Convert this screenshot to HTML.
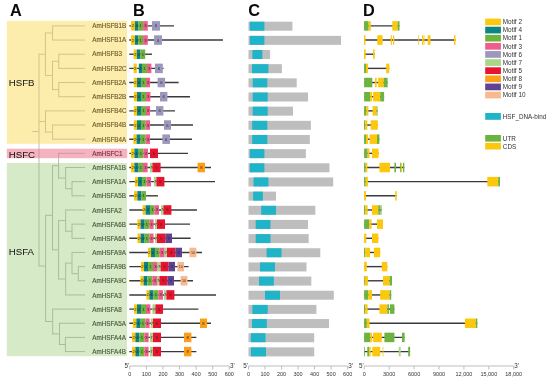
<!DOCTYPE html>
<html><head><meta charset="utf-8"><title>HSF figure</title>
<style>
html,body{margin:0;padding:0;background:#fff;}
body{width:550px;height:381px;overflow:hidden;font-family:"Liberation Sans",sans-serif;}
svg{display:block;filter:blur(0.35px);}
</style></head>
<body>
<svg width="550" height="381" viewBox="0 0 550 381" font-family="&quot;Liberation Sans&quot;, sans-serif">
<rect x="0" y="0" width="550" height="381" fill="#ffffff"/>
<rect x="6.8" y="20.8" width="120.2" height="123" fill="#fcedac"/>
<rect x="6.8" y="148.7" width="120.4" height="9.5" fill="#f4b3bf"/>
<rect x="6.8" y="163" width="120.2" height="193.2" fill="#d6eac8"/>
<line x1="52.60" y1="25.90" x2="85.00" y2="25.90" stroke="#d4c48a" stroke-width="1"/>
<line x1="52.60" y1="40.06" x2="85.00" y2="40.06" stroke="#d4c48a" stroke-width="1"/>
<line x1="52.60" y1="25.40" x2="52.60" y2="40.56" stroke="#d4c48a" stroke-width="1"/>
<line x1="58.80" y1="54.22" x2="85.00" y2="54.22" stroke="#d4c48a" stroke-width="1"/>
<line x1="58.80" y1="68.38" x2="85.00" y2="68.38" stroke="#d4c48a" stroke-width="1"/>
<line x1="58.80" y1="53.72" x2="58.80" y2="68.88" stroke="#d4c48a" stroke-width="1"/>
<line x1="58.80" y1="82.54" x2="85.00" y2="82.54" stroke="#d4c48a" stroke-width="1"/>
<line x1="58.80" y1="96.70" x2="85.00" y2="96.70" stroke="#d4c48a" stroke-width="1"/>
<line x1="58.80" y1="82.04" x2="58.80" y2="97.20" stroke="#d4c48a" stroke-width="1"/>
<line x1="52.50" y1="61.30" x2="58.80" y2="61.30" stroke="#d4c48a" stroke-width="1"/>
<line x1="52.50" y1="89.62" x2="58.80" y2="89.62" stroke="#d4c48a" stroke-width="1"/>
<line x1="52.50" y1="60.80" x2="52.50" y2="90.12" stroke="#d4c48a" stroke-width="1"/>
<line x1="45.40" y1="32.98" x2="52.60" y2="32.98" stroke="#d4c48a" stroke-width="1"/>
<line x1="45.40" y1="75.46" x2="52.50" y2="75.46" stroke="#d4c48a" stroke-width="1"/>
<line x1="45.40" y1="32.48" x2="45.40" y2="75.96" stroke="#d4c48a" stroke-width="1"/>
<line x1="52.60" y1="125.02" x2="85.00" y2="125.02" stroke="#d4c48a" stroke-width="1"/>
<line x1="52.60" y1="139.18" x2="85.00" y2="139.18" stroke="#d4c48a" stroke-width="1"/>
<line x1="52.60" y1="124.52" x2="52.60" y2="139.68" stroke="#d4c48a" stroke-width="1"/>
<line x1="45.50" y1="110.86" x2="85.00" y2="110.86" stroke="#d4c48a" stroke-width="1"/>
<line x1="45.50" y1="132.10" x2="52.60" y2="132.10" stroke="#d4c48a" stroke-width="1"/>
<line x1="45.50" y1="110.36" x2="45.50" y2="132.60" stroke="#d4c48a" stroke-width="1"/>
<line x1="72.00" y1="181.66" x2="85.00" y2="181.66" stroke="#a8be9a" stroke-width="1"/>
<line x1="72.00" y1="195.82" x2="85.00" y2="195.82" stroke="#a8be9a" stroke-width="1"/>
<line x1="72.00" y1="181.16" x2="72.00" y2="196.32" stroke="#a8be9a" stroke-width="1"/>
<line x1="65.70" y1="167.50" x2="85.00" y2="167.50" stroke="#a8be9a" stroke-width="1"/>
<line x1="65.70" y1="188.74" x2="72.00" y2="188.74" stroke="#a8be9a" stroke-width="1"/>
<line x1="65.70" y1="167.00" x2="65.70" y2="189.24" stroke="#a8be9a" stroke-width="1"/>
<line x1="58.60" y1="153.34" x2="85.00" y2="153.34" stroke="#cc9aa4" stroke-width="1"/>
<line x1="58.60" y1="178.12" x2="65.70" y2="178.12" stroke="#a8be9a" stroke-width="1"/>
<line x1="58.60" y1="152.84" x2="58.60" y2="158.20" stroke="#cc9aa4" stroke-width="1"/>
<line x1="58.60" y1="158.20" x2="58.60" y2="163.00" stroke="#bcbcbc" stroke-width="1"/>
<line x1="58.60" y1="163.00" x2="58.60" y2="178.62" stroke="#a8be9a" stroke-width="1"/>
<line x1="72.00" y1="224.14" x2="85.00" y2="224.14" stroke="#a8be9a" stroke-width="1"/>
<line x1="72.00" y1="238.30" x2="85.00" y2="238.30" stroke="#a8be9a" stroke-width="1"/>
<line x1="72.00" y1="223.64" x2="72.00" y2="238.80" stroke="#a8be9a" stroke-width="1"/>
<line x1="65.70" y1="209.98" x2="85.00" y2="209.98" stroke="#a8be9a" stroke-width="1"/>
<line x1="65.70" y1="231.22" x2="72.00" y2="231.22" stroke="#a8be9a" stroke-width="1"/>
<line x1="65.70" y1="209.48" x2="65.70" y2="231.72" stroke="#a8be9a" stroke-width="1"/>
<line x1="78.30" y1="266.62" x2="85.00" y2="266.62" stroke="#a8be9a" stroke-width="1"/>
<line x1="78.30" y1="280.78" x2="85.00" y2="280.78" stroke="#a8be9a" stroke-width="1"/>
<line x1="78.30" y1="266.12" x2="78.30" y2="281.28" stroke="#a8be9a" stroke-width="1"/>
<line x1="72.00" y1="252.46" x2="85.00" y2="252.46" stroke="#a8be9a" stroke-width="1"/>
<line x1="72.00" y1="273.70" x2="78.30" y2="273.70" stroke="#a8be9a" stroke-width="1"/>
<line x1="72.00" y1="251.96" x2="72.00" y2="274.20" stroke="#a8be9a" stroke-width="1"/>
<line x1="65.70" y1="294.94" x2="85.00" y2="294.94" stroke="#a8be9a" stroke-width="1"/>
<line x1="65.70" y1="263.08" x2="72.00" y2="263.08" stroke="#a8be9a" stroke-width="1"/>
<line x1="65.70" y1="262.58" x2="65.70" y2="295.44" stroke="#a8be9a" stroke-width="1"/>
<line x1="58.60" y1="220.60" x2="65.70" y2="220.60" stroke="#a8be9a" stroke-width="1"/>
<line x1="58.60" y1="279.01" x2="65.70" y2="279.01" stroke="#a8be9a" stroke-width="1"/>
<line x1="58.60" y1="220.10" x2="58.60" y2="279.51" stroke="#a8be9a" stroke-width="1"/>
<line x1="52.50" y1="165.73" x2="58.60" y2="165.73" stroke="#a8be9a" stroke-width="1"/>
<line x1="52.50" y1="249.81" x2="58.60" y2="249.81" stroke="#a8be9a" stroke-width="1"/>
<line x1="52.50" y1="165.23" x2="52.50" y2="250.31" stroke="#a8be9a" stroke-width="1"/>
<line x1="45.60" y1="215.30" x2="52.50" y2="215.30" stroke="#a8be9a" stroke-width="1"/>
<line x1="65.40" y1="337.42" x2="85.00" y2="337.42" stroke="#a8be9a" stroke-width="1"/>
<line x1="65.40" y1="351.58" x2="85.00" y2="351.58" stroke="#a8be9a" stroke-width="1"/>
<line x1="65.40" y1="336.92" x2="65.40" y2="352.08" stroke="#a8be9a" stroke-width="1"/>
<line x1="59.50" y1="323.26" x2="85.00" y2="323.26" stroke="#a8be9a" stroke-width="1"/>
<line x1="59.50" y1="344.50" x2="65.40" y2="344.50" stroke="#a8be9a" stroke-width="1"/>
<line x1="59.50" y1="322.76" x2="59.50" y2="345.00" stroke="#a8be9a" stroke-width="1"/>
<line x1="52.70" y1="309.10" x2="85.00" y2="309.10" stroke="#a8be9a" stroke-width="1"/>
<line x1="52.70" y1="333.88" x2="59.50" y2="333.88" stroke="#a8be9a" stroke-width="1"/>
<line x1="52.70" y1="308.60" x2="52.70" y2="334.38" stroke="#a8be9a" stroke-width="1"/>
<line x1="45.60" y1="321.49" x2="52.70" y2="321.49" stroke="#a8be9a" stroke-width="1"/>
<line x1="45.60" y1="214.80" x2="45.60" y2="321.99" stroke="#a8be9a" stroke-width="1"/>
<line x1="39.00" y1="54.22" x2="45.40" y2="54.22" stroke="#d4c48a" stroke-width="1"/>
<line x1="39.00" y1="121.48" x2="45.50" y2="121.48" stroke="#d4c48a" stroke-width="1"/>
<line x1="39.00" y1="266.00" x2="45.60" y2="266.00" stroke="#a8be9a" stroke-width="1"/>
<line x1="39.00" y1="53.72" x2="39.00" y2="144.00" stroke="#d4c48a" stroke-width="1"/>
<line x1="39.00" y1="144.00" x2="39.00" y2="148.70" stroke="#bcbcbc" stroke-width="1"/>
<line x1="39.00" y1="148.70" x2="39.00" y2="158.20" stroke="#cc9aa4" stroke-width="1"/>
<line x1="39.00" y1="158.20" x2="39.00" y2="163.00" stroke="#bcbcbc" stroke-width="1"/>
<line x1="39.00" y1="163.00" x2="39.00" y2="266.50" stroke="#a8be9a" stroke-width="1"/>
<line x1="32.40" y1="131.50" x2="39.00" y2="131.50" stroke="#d4c48a" stroke-width="1"/>
<text x="8.7" y="86.0" font-size="9.7" fill="#1c1b17" stroke="#1c1b17" stroke-width="0.05">HSFB</text>
<text x="8.7" y="157.6" font-size="9.7" fill="#1c1517" stroke="#1c1517" stroke-width="0.05">HSFC</text>
<text x="8.7" y="255.2" font-size="9.7" fill="#171c18" stroke="#171c18" stroke-width="0.05">HSFA</text>
<text x="92.3" y="28.10" font-size="6.3" fill="#6f602f" stroke="#6f602f" stroke-width="0.15">AmHSFB1B</text>
<text x="92.3" y="42.29" font-size="6.3" fill="#6f602f" stroke="#6f602f" stroke-width="0.15">AmHSFB1A</text>
<text x="92.3" y="56.47" font-size="6.3" fill="#6f602f" stroke="#6f602f" stroke-width="0.15">AmHSFB3</text>
<text x="92.3" y="70.66" font-size="6.3" fill="#6f602f" stroke="#6f602f" stroke-width="0.15">AmHSFB2C</text>
<text x="92.3" y="84.84" font-size="6.3" fill="#6f602f" stroke="#6f602f" stroke-width="0.15">AmHSFB2A</text>
<text x="92.3" y="99.03" font-size="6.3" fill="#6f602f" stroke="#6f602f" stroke-width="0.15">AmHSFB2B</text>
<text x="92.3" y="113.21" font-size="6.3" fill="#6f602f" stroke="#6f602f" stroke-width="0.15">AmHSFB4C</text>
<text x="92.3" y="127.40" font-size="6.3" fill="#6f602f" stroke="#6f602f" stroke-width="0.15">AmHSFB4B</text>
<text x="92.3" y="141.58" font-size="6.3" fill="#6f602f" stroke="#6f602f" stroke-width="0.15">AmHSFB4A</text>
<text x="92.3" y="155.77" font-size="6.3" fill="#7c2f45" stroke="#7c2f45" stroke-width="0.15">AmHSFC1</text>
<text x="92.3" y="169.95" font-size="6.3" fill="#4a5c40" stroke="#4a5c40" stroke-width="0.15">AmHSFA1B</text>
<text x="92.3" y="184.13" font-size="6.3" fill="#4a5c40" stroke="#4a5c40" stroke-width="0.15">AmHSFA1A</text>
<text x="92.3" y="198.32" font-size="6.3" fill="#4a5c40" stroke="#4a5c40" stroke-width="0.15">AmHSFA5B</text>
<text x="92.3" y="212.50" font-size="6.3" fill="#4a5c40" stroke="#4a5c40" stroke-width="0.15">AmHSFA2</text>
<text x="92.3" y="226.69" font-size="6.3" fill="#4a5c40" stroke="#4a5c40" stroke-width="0.15">AmHSFA6B</text>
<text x="92.3" y="240.88" font-size="6.3" fill="#4a5c40" stroke="#4a5c40" stroke-width="0.15">AmHSFA6A</text>
<text x="92.3" y="255.06" font-size="6.3" fill="#4a5c40" stroke="#4a5c40" stroke-width="0.15">AmHSFA9A</text>
<text x="92.3" y="269.25" font-size="6.3" fill="#4a5c40" stroke="#4a5c40" stroke-width="0.15">AmHSFA9B</text>
<text x="92.3" y="283.43" font-size="6.3" fill="#4a5c40" stroke="#4a5c40" stroke-width="0.15">AmHSFA9C</text>
<text x="92.3" y="297.62" font-size="6.3" fill="#4a5c40" stroke="#4a5c40" stroke-width="0.15">AmHSFA3</text>
<text x="92.3" y="311.80" font-size="6.3" fill="#4a5c40" stroke="#4a5c40" stroke-width="0.15">AmHSFA8</text>
<text x="92.3" y="325.99" font-size="6.3" fill="#4a5c40" stroke="#4a5c40" stroke-width="0.15">AmHSFA5A</text>
<text x="92.3" y="340.17" font-size="6.3" fill="#4a5c40" stroke="#4a5c40" stroke-width="0.15">AmHSFA4A</text>
<text x="92.3" y="354.36" font-size="6.3" fill="#4a5c40" stroke="#4a5c40" stroke-width="0.15">AmHSFA4B</text>
<text x="9.899999999999999" y="15.8" font-size="16.3" font-weight="bold" fill="#0a0a0a">A</text>
<text x="133.1" y="15.8" font-size="16.3" font-weight="bold" fill="#0a0a0a">B</text>
<text x="248.29999999999998" y="15.8" font-size="16.3" font-weight="bold" fill="#0a0a0a">C</text>
<text x="363.09999999999997" y="15.8" font-size="16.3" font-weight="bold" fill="#0a0a0a">D</text>
<line x1="129.3" y1="25.90" x2="174" y2="25.90" stroke="#3a3a3a" stroke-width="1.4"/>
<rect x="131" y="21.15" width="3.90" height="9.5" fill="#fcc80c"/>
<text x="132.95" y="27.40" font-size="4.2" fill="#2c2c2c" text-anchor="middle">2</text>
<rect x="134.9" y="21.15" width="3.50" height="9.5" fill="#0a8584"/>
<text x="136.65" y="27.40" font-size="4.2" fill="#2c2c2c" text-anchor="middle">4</text>
<rect x="138.4" y="21.15" width="4.70" height="9.5" fill="#6cb43c"/>
<text x="140.75" y="27.40" font-size="4.2" fill="#2c2c2c" text-anchor="middle">1</text>
<rect x="143.1" y="21.15" width="4.70" height="9.5" fill="#ef5d8c"/>
<text x="145.45" y="27.40" font-size="4.2" fill="#2c2c2c" text-anchor="middle">3</text>
<rect x="152" y="21.15" width="8.00" height="9.5" fill="#9b97bd"/>
<text x="156.00" y="27.40" font-size="4.2" fill="#2c2c2c" text-anchor="middle">6</text>
<line x1="129.3" y1="40.06" x2="223" y2="40.06" stroke="#3a3a3a" stroke-width="1.4"/>
<rect x="131" y="35.31" width="3.90" height="9.5" fill="#fcc80c"/>
<text x="132.95" y="41.56" font-size="4.2" fill="#2c2c2c" text-anchor="middle">2</text>
<rect x="134.9" y="35.31" width="3.50" height="9.5" fill="#0a8584"/>
<text x="136.65" y="41.56" font-size="4.2" fill="#2c2c2c" text-anchor="middle">4</text>
<rect x="138.4" y="35.31" width="4.70" height="9.5" fill="#6cb43c"/>
<text x="140.75" y="41.56" font-size="4.2" fill="#2c2c2c" text-anchor="middle">1</text>
<rect x="143.1" y="35.31" width="4.70" height="9.5" fill="#ef5d8c"/>
<text x="145.45" y="41.56" font-size="4.2" fill="#2c2c2c" text-anchor="middle">3</text>
<rect x="154.1" y="35.31" width="7.90" height="9.5" fill="#9b97bd"/>
<text x="158.05" y="41.56" font-size="4.2" fill="#2c2c2c" text-anchor="middle">6</text>
<line x1="129.3" y1="54.22" x2="152" y2="54.22" stroke="#3a3a3a" stroke-width="1.4"/>
<rect x="133.6" y="49.47" width="3.20" height="9.5" fill="#fcc80c"/>
<text x="135.20" y="55.72" font-size="4.2" fill="#2c2c2c" text-anchor="middle">2</text>
<rect x="136.8" y="49.47" width="3.60" height="9.5" fill="#0a8584"/>
<text x="138.60" y="55.72" font-size="4.2" fill="#2c2c2c" text-anchor="middle">4</text>
<rect x="140.4" y="49.47" width="4.80" height="9.5" fill="#6cb43c"/>
<text x="142.80" y="55.72" font-size="4.2" fill="#2c2c2c" text-anchor="middle">1</text>
<line x1="129.3" y1="68.38" x2="163.6" y2="68.38" stroke="#3a3a3a" stroke-width="1.4"/>
<rect x="133.6" y="63.63" width="3.20" height="9.5" fill="#fcc80c"/>
<text x="135.20" y="69.88" font-size="4.2" fill="#2c2c2c" text-anchor="middle">2</text>
<rect x="138.8" y="63.63" width="3.20" height="9.5" fill="#0a8584"/>
<text x="140.40" y="69.88" font-size="4.2" fill="#2c2c2c" text-anchor="middle">4</text>
<rect x="142" y="63.63" width="5.00" height="9.5" fill="#6cb43c"/>
<text x="144.50" y="69.88" font-size="4.2" fill="#2c2c2c" text-anchor="middle">1</text>
<rect x="147" y="63.63" width="4.40" height="9.5" fill="#ef5d8c"/>
<text x="149.20" y="69.88" font-size="4.2" fill="#2c2c2c" text-anchor="middle">3</text>
<rect x="155" y="63.63" width="7.80" height="9.5" fill="#9b97bd"/>
<text x="158.90" y="69.88" font-size="4.2" fill="#2c2c2c" text-anchor="middle">6</text>
<line x1="129.3" y1="82.54" x2="178.6" y2="82.54" stroke="#3a3a3a" stroke-width="1.4"/>
<rect x="133.8" y="77.79" width="3.20" height="9.5" fill="#fcc80c"/>
<text x="135.40" y="84.04" font-size="4.2" fill="#2c2c2c" text-anchor="middle">2</text>
<rect x="137" y="77.79" width="4.00" height="9.5" fill="#0a8584"/>
<text x="139.00" y="84.04" font-size="4.2" fill="#2c2c2c" text-anchor="middle">4</text>
<rect x="141" y="77.79" width="5.00" height="9.5" fill="#6cb43c"/>
<text x="143.50" y="84.04" font-size="4.2" fill="#2c2c2c" text-anchor="middle">1</text>
<rect x="146" y="77.79" width="4.00" height="9.5" fill="#ef5d8c"/>
<text x="148.00" y="84.04" font-size="4.2" fill="#2c2c2c" text-anchor="middle">3</text>
<rect x="157.6" y="77.79" width="7.40" height="9.5" fill="#9b97bd"/>
<text x="161.30" y="84.04" font-size="4.2" fill="#2c2c2c" text-anchor="middle">6</text>
<line x1="129.3" y1="96.70" x2="190" y2="96.70" stroke="#3a3a3a" stroke-width="1.4"/>
<rect x="133.8" y="91.95" width="3.20" height="9.5" fill="#fcc80c"/>
<text x="135.40" y="98.20" font-size="4.2" fill="#2c2c2c" text-anchor="middle">2</text>
<rect x="137" y="91.95" width="4.00" height="9.5" fill="#0a8584"/>
<text x="139.00" y="98.20" font-size="4.2" fill="#2c2c2c" text-anchor="middle">4</text>
<rect x="141" y="91.95" width="5.00" height="9.5" fill="#6cb43c"/>
<text x="143.50" y="98.20" font-size="4.2" fill="#2c2c2c" text-anchor="middle">1</text>
<rect x="146" y="91.95" width="4.40" height="9.5" fill="#ef5d8c"/>
<text x="148.20" y="98.20" font-size="4.2" fill="#2c2c2c" text-anchor="middle">3</text>
<rect x="160" y="91.95" width="7.40" height="9.5" fill="#9b97bd"/>
<text x="163.70" y="98.20" font-size="4.2" fill="#2c2c2c" text-anchor="middle">6</text>
<line x1="129.3" y1="110.86" x2="175" y2="110.86" stroke="#3a3a3a" stroke-width="1.4"/>
<rect x="133.8" y="106.11" width="3.20" height="9.5" fill="#fcc80c"/>
<text x="135.40" y="112.36" font-size="4.2" fill="#2c2c2c" text-anchor="middle">2</text>
<rect x="137" y="106.11" width="4.00" height="9.5" fill="#0a8584"/>
<text x="139.00" y="112.36" font-size="4.2" fill="#2c2c2c" text-anchor="middle">4</text>
<rect x="141" y="106.11" width="5.00" height="9.5" fill="#6cb43c"/>
<text x="143.50" y="112.36" font-size="4.2" fill="#2c2c2c" text-anchor="middle">1</text>
<rect x="146" y="106.11" width="4.00" height="9.5" fill="#ef5d8c"/>
<text x="148.00" y="112.36" font-size="4.2" fill="#2c2c2c" text-anchor="middle">3</text>
<rect x="156" y="106.11" width="7.40" height="9.5" fill="#9b97bd"/>
<text x="159.70" y="112.36" font-size="4.2" fill="#2c2c2c" text-anchor="middle">6</text>
<line x1="129.3" y1="125.02" x2="193" y2="125.02" stroke="#3a3a3a" stroke-width="1.4"/>
<rect x="133.8" y="120.27" width="3.20" height="9.5" fill="#fcc80c"/>
<text x="135.40" y="126.52" font-size="4.2" fill="#2c2c2c" text-anchor="middle">2</text>
<rect x="137" y="120.27" width="4.00" height="9.5" fill="#0a8584"/>
<text x="139.00" y="126.52" font-size="4.2" fill="#2c2c2c" text-anchor="middle">4</text>
<rect x="141" y="120.27" width="4.60" height="9.5" fill="#6cb43c"/>
<text x="143.30" y="126.52" font-size="4.2" fill="#2c2c2c" text-anchor="middle">1</text>
<rect x="145.6" y="120.27" width="4.40" height="9.5" fill="#ef5d8c"/>
<text x="147.80" y="126.52" font-size="4.2" fill="#2c2c2c" text-anchor="middle">3</text>
<rect x="164" y="120.27" width="7.00" height="9.5" fill="#9b97bd"/>
<text x="167.50" y="126.52" font-size="4.2" fill="#2c2c2c" text-anchor="middle">6</text>
<line x1="129.3" y1="139.18" x2="192" y2="139.18" stroke="#3a3a3a" stroke-width="1.4"/>
<rect x="133.4" y="134.43" width="3.20" height="9.5" fill="#fcc80c"/>
<text x="135.00" y="140.68" font-size="4.2" fill="#2c2c2c" text-anchor="middle">2</text>
<rect x="136.6" y="134.43" width="4.00" height="9.5" fill="#0a8584"/>
<text x="138.60" y="140.68" font-size="4.2" fill="#2c2c2c" text-anchor="middle">4</text>
<rect x="140.6" y="134.43" width="5.00" height="9.5" fill="#6cb43c"/>
<text x="143.10" y="140.68" font-size="4.2" fill="#2c2c2c" text-anchor="middle">1</text>
<rect x="145.6" y="134.43" width="4.40" height="9.5" fill="#ef5d8c"/>
<text x="147.80" y="140.68" font-size="4.2" fill="#2c2c2c" text-anchor="middle">3</text>
<rect x="162.4" y="134.43" width="7.60" height="9.5" fill="#9b97bd"/>
<text x="166.20" y="140.68" font-size="4.2" fill="#2c2c2c" text-anchor="middle">6</text>
<line x1="129.3" y1="153.34" x2="188" y2="153.34" stroke="#3a3a3a" stroke-width="1.4"/>
<rect x="131" y="148.59" width="3.40" height="9.5" fill="#fcc80c"/>
<text x="132.70" y="154.84" font-size="4.2" fill="#2c2c2c" text-anchor="middle">2</text>
<rect x="134.4" y="148.59" width="4.20" height="9.5" fill="#0a8584"/>
<text x="136.50" y="154.84" font-size="4.2" fill="#2c2c2c" text-anchor="middle">4</text>
<rect x="138.6" y="148.59" width="4.80" height="9.5" fill="#6cb43c"/>
<text x="141.00" y="154.84" font-size="4.2" fill="#2c2c2c" text-anchor="middle">1</text>
<rect x="143.4" y="148.59" width="4.60" height="9.5" fill="#ef5d8c"/>
<text x="145.70" y="154.84" font-size="4.2" fill="#2c2c2c" text-anchor="middle">3</text>
<rect x="150" y="148.59" width="8.00" height="9.5" fill="#e8132e"/>
<text x="154.00" y="154.84" font-size="4.2" fill="#2c2c2c" text-anchor="middle">5</text>
<line x1="129.3" y1="167.50" x2="211" y2="167.50" stroke="#3a3a3a" stroke-width="1.4"/>
<rect x="131" y="162.75" width="3.40" height="9.5" fill="#fcc80c"/>
<text x="132.70" y="169.00" font-size="4.2" fill="#2c2c2c" text-anchor="middle">2</text>
<rect x="134.4" y="162.75" width="4.20" height="9.5" fill="#0a8584"/>
<text x="136.50" y="169.00" font-size="4.2" fill="#2c2c2c" text-anchor="middle">4</text>
<rect x="138.6" y="162.75" width="4.40" height="9.5" fill="#6cb43c"/>
<text x="140.80" y="169.00" font-size="4.2" fill="#2c2c2c" text-anchor="middle">1</text>
<rect x="143" y="162.75" width="4.60" height="9.5" fill="#ef5d8c"/>
<text x="145.30" y="169.00" font-size="4.2" fill="#2c2c2c" text-anchor="middle">3</text>
<rect x="150" y="162.75" width="2.40" height="9.5" fill="#a8d787"/>
<text x="151.20" y="169.00" font-size="4.2" fill="#2c2c2c" text-anchor="middle">7</text>
<rect x="152.4" y="162.75" width="8.20" height="9.5" fill="#e8132e"/>
<text x="156.50" y="169.00" font-size="4.2" fill="#2c2c2c" text-anchor="middle">5</text>
<rect x="197.6" y="162.75" width="7.40" height="9.5" fill="#fd9e18"/>
<text x="201.30" y="169.00" font-size="4.2" fill="#2c2c2c" text-anchor="middle">8</text>
<line x1="129.3" y1="181.66" x2="215" y2="181.66" stroke="#3a3a3a" stroke-width="1.4"/>
<rect x="135" y="176.91" width="3.00" height="9.5" fill="#fcc80c"/>
<text x="136.50" y="183.16" font-size="4.2" fill="#2c2c2c" text-anchor="middle">2</text>
<rect x="138" y="176.91" width="4.00" height="9.5" fill="#0a8584"/>
<text x="140.00" y="183.16" font-size="4.2" fill="#2c2c2c" text-anchor="middle">4</text>
<rect x="142" y="176.91" width="4.60" height="9.5" fill="#6cb43c"/>
<text x="144.30" y="183.16" font-size="4.2" fill="#2c2c2c" text-anchor="middle">1</text>
<rect x="146.6" y="176.91" width="4.40" height="9.5" fill="#ef5d8c"/>
<text x="148.80" y="183.16" font-size="4.2" fill="#2c2c2c" text-anchor="middle">3</text>
<rect x="154" y="176.91" width="2.40" height="9.5" fill="#a8d787"/>
<text x="155.20" y="183.16" font-size="4.2" fill="#2c2c2c" text-anchor="middle">7</text>
<rect x="156.4" y="176.91" width="8.00" height="9.5" fill="#e8132e"/>
<text x="160.40" y="183.16" font-size="4.2" fill="#2c2c2c" text-anchor="middle">5</text>
<line x1="129.3" y1="195.82" x2="158" y2="195.82" stroke="#3a3a3a" stroke-width="1.4"/>
<rect x="134" y="191.07" width="3.40" height="9.5" fill="#fcc80c"/>
<text x="135.70" y="197.32" font-size="4.2" fill="#2c2c2c" text-anchor="middle">2</text>
<rect x="137.4" y="191.07" width="4.00" height="9.5" fill="#0a8584"/>
<text x="139.40" y="197.32" font-size="4.2" fill="#2c2c2c" text-anchor="middle">4</text>
<rect x="141.4" y="191.07" width="4.60" height="9.5" fill="#6cb43c"/>
<text x="143.70" y="197.32" font-size="4.2" fill="#2c2c2c" text-anchor="middle">1</text>
<line x1="129.3" y1="209.98" x2="197" y2="209.98" stroke="#3a3a3a" stroke-width="1.4"/>
<rect x="142.6" y="205.23" width="3.00" height="9.5" fill="#fcc80c"/>
<text x="144.10" y="211.48" font-size="4.2" fill="#2c2c2c" text-anchor="middle">2</text>
<rect x="145.6" y="205.23" width="4.40" height="9.5" fill="#0a8584"/>
<text x="147.80" y="211.48" font-size="4.2" fill="#2c2c2c" text-anchor="middle">4</text>
<rect x="150" y="205.23" width="4.60" height="9.5" fill="#6cb43c"/>
<text x="152.30" y="211.48" font-size="4.2" fill="#2c2c2c" text-anchor="middle">1</text>
<rect x="154.6" y="205.23" width="4.40" height="9.5" fill="#ef5d8c"/>
<text x="156.80" y="211.48" font-size="4.2" fill="#2c2c2c" text-anchor="middle">3</text>
<rect x="161" y="205.23" width="2.40" height="9.5" fill="#a8d787"/>
<text x="162.20" y="211.48" font-size="4.2" fill="#2c2c2c" text-anchor="middle">7</text>
<rect x="163.4" y="205.23" width="8.00" height="9.5" fill="#e8132e"/>
<text x="167.40" y="211.48" font-size="4.2" fill="#2c2c2c" text-anchor="middle">5</text>
<line x1="129.3" y1="224.14" x2="190" y2="224.14" stroke="#3a3a3a" stroke-width="1.4"/>
<rect x="137.4" y="219.39" width="3.20" height="9.5" fill="#fcc80c"/>
<text x="139.00" y="225.64" font-size="4.2" fill="#2c2c2c" text-anchor="middle">2</text>
<rect x="140.6" y="219.39" width="4.00" height="9.5" fill="#0a8584"/>
<text x="142.60" y="225.64" font-size="4.2" fill="#2c2c2c" text-anchor="middle">4</text>
<rect x="144.6" y="219.39" width="4.80" height="9.5" fill="#6cb43c"/>
<text x="147.00" y="225.64" font-size="4.2" fill="#2c2c2c" text-anchor="middle">1</text>
<rect x="149.4" y="219.39" width="4.20" height="9.5" fill="#ef5d8c"/>
<text x="151.50" y="225.64" font-size="4.2" fill="#2c2c2c" text-anchor="middle">3</text>
<rect x="155" y="219.39" width="2.00" height="9.5" fill="#a8d787"/>
<text x="156.00" y="225.64" font-size="4.2" fill="#2c2c2c" text-anchor="middle">7</text>
<rect x="157" y="219.39" width="8.00" height="9.5" fill="#e8132e"/>
<text x="161.00" y="225.64" font-size="4.2" fill="#2c2c2c" text-anchor="middle">5</text>
<line x1="129.3" y1="238.30" x2="190.6" y2="238.30" stroke="#3a3a3a" stroke-width="1.4"/>
<rect x="137.4" y="233.55" width="3.20" height="9.5" fill="#fcc80c"/>
<text x="139.00" y="239.80" font-size="4.2" fill="#2c2c2c" text-anchor="middle">2</text>
<rect x="140.6" y="233.55" width="4.00" height="9.5" fill="#0a8584"/>
<text x="142.60" y="239.80" font-size="4.2" fill="#2c2c2c" text-anchor="middle">4</text>
<rect x="144.6" y="233.55" width="4.80" height="9.5" fill="#6cb43c"/>
<text x="147.00" y="239.80" font-size="4.2" fill="#2c2c2c" text-anchor="middle">1</text>
<rect x="149.4" y="233.55" width="4.20" height="9.5" fill="#ef5d8c"/>
<text x="151.50" y="239.80" font-size="4.2" fill="#2c2c2c" text-anchor="middle">3</text>
<rect x="155" y="233.55" width="2.00" height="9.5" fill="#a8d787"/>
<text x="156.00" y="239.80" font-size="4.2" fill="#2c2c2c" text-anchor="middle">7</text>
<rect x="157" y="233.55" width="8.60" height="9.5" fill="#e8132e"/>
<text x="161.30" y="239.80" font-size="4.2" fill="#2c2c2c" text-anchor="middle">5</text>
<rect x="165.6" y="233.55" width="6.40" height="9.5" fill="#5d4392"/>
<text x="168.80" y="239.80" font-size="4.2" fill="#2c2c2c" text-anchor="middle">9</text>
<line x1="129.3" y1="252.46" x2="202" y2="252.46" stroke="#3a3a3a" stroke-width="1.4"/>
<rect x="148" y="247.71" width="3.00" height="9.5" fill="#fcc80c"/>
<text x="149.50" y="253.96" font-size="4.2" fill="#2c2c2c" text-anchor="middle">2</text>
<rect x="151" y="247.71" width="4.00" height="9.5" fill="#0a8584"/>
<text x="153.00" y="253.96" font-size="4.2" fill="#2c2c2c" text-anchor="middle">4</text>
<rect x="155" y="247.71" width="4.40" height="9.5" fill="#6cb43c"/>
<text x="157.20" y="253.96" font-size="4.2" fill="#2c2c2c" text-anchor="middle">1</text>
<rect x="159.4" y="247.71" width="5.20" height="9.5" fill="#ef5d8c"/>
<text x="162.00" y="253.96" font-size="4.2" fill="#2c2c2c" text-anchor="middle">3</text>
<rect x="164.6" y="247.71" width="2.40" height="9.5" fill="#a8d787"/>
<text x="165.80" y="253.96" font-size="4.2" fill="#2c2c2c" text-anchor="middle">7</text>
<rect x="167" y="247.71" width="8.40" height="9.5" fill="#e8132e"/>
<text x="171.20" y="253.96" font-size="4.2" fill="#2c2c2c" text-anchor="middle">5</text>
<rect x="175.4" y="247.71" width="6.60" height="9.5" fill="#5d4392"/>
<text x="178.70" y="253.96" font-size="4.2" fill="#2c2c2c" text-anchor="middle">9</text>
<rect x="189.4" y="247.71" width="7.00" height="9.5" fill="#f8b98e"/>
<text x="192.90" y="253.96" font-size="3.6" fill="#2c2c2c" text-anchor="middle">10</text>
<line x1="129.3" y1="266.62" x2="188.6" y2="266.62" stroke="#3a3a3a" stroke-width="1.4"/>
<rect x="141" y="261.87" width="3.00" height="9.5" fill="#fcc80c"/>
<text x="142.50" y="268.12" font-size="4.2" fill="#2c2c2c" text-anchor="middle">2</text>
<rect x="144" y="261.87" width="4.00" height="9.5" fill="#0a8584"/>
<text x="146.00" y="268.12" font-size="4.2" fill="#2c2c2c" text-anchor="middle">4</text>
<rect x="148" y="261.87" width="5.00" height="9.5" fill="#6cb43c"/>
<text x="150.50" y="268.12" font-size="4.2" fill="#2c2c2c" text-anchor="middle">1</text>
<rect x="153" y="261.87" width="4.60" height="9.5" fill="#ef5d8c"/>
<text x="155.30" y="268.12" font-size="4.2" fill="#2c2c2c" text-anchor="middle">3</text>
<rect x="157.6" y="261.87" width="3.00" height="9.5" fill="#a8d787"/>
<text x="159.10" y="268.12" font-size="4.2" fill="#2c2c2c" text-anchor="middle">7</text>
<rect x="160.6" y="261.87" width="8.00" height="9.5" fill="#e8132e"/>
<text x="164.60" y="268.12" font-size="4.2" fill="#2c2c2c" text-anchor="middle">5</text>
<rect x="168.6" y="261.87" width="6.40" height="9.5" fill="#5d4392"/>
<text x="171.80" y="268.12" font-size="4.2" fill="#2c2c2c" text-anchor="middle">9</text>
<rect x="177.4" y="261.87" width="6.60" height="9.5" fill="#f8b98e"/>
<text x="180.70" y="268.12" font-size="3.6" fill="#2c2c2c" text-anchor="middle">10</text>
<line x1="129.3" y1="280.78" x2="193" y2="280.78" stroke="#3a3a3a" stroke-width="1.4"/>
<rect x="140.4" y="276.03" width="3.20" height="9.5" fill="#fcc80c"/>
<text x="142.00" y="282.28" font-size="4.2" fill="#2c2c2c" text-anchor="middle">2</text>
<rect x="143.6" y="276.03" width="3.80" height="9.5" fill="#0a8584"/>
<text x="145.50" y="282.28" font-size="4.2" fill="#2c2c2c" text-anchor="middle">4</text>
<rect x="147.4" y="276.03" width="5.00" height="9.5" fill="#6cb43c"/>
<text x="149.90" y="282.28" font-size="4.2" fill="#2c2c2c" text-anchor="middle">1</text>
<rect x="152.4" y="276.03" width="4.60" height="9.5" fill="#ef5d8c"/>
<text x="154.70" y="282.28" font-size="4.2" fill="#2c2c2c" text-anchor="middle">3</text>
<rect x="157" y="276.03" width="2.40" height="9.5" fill="#a8d787"/>
<text x="158.20" y="282.28" font-size="4.2" fill="#2c2c2c" text-anchor="middle">7</text>
<rect x="159.4" y="276.03" width="8.00" height="9.5" fill="#e8132e"/>
<text x="163.40" y="282.28" font-size="4.2" fill="#2c2c2c" text-anchor="middle">5</text>
<rect x="167.4" y="276.03" width="6.60" height="9.5" fill="#5d4392"/>
<text x="170.70" y="282.28" font-size="4.2" fill="#2c2c2c" text-anchor="middle">9</text>
<rect x="180.6" y="276.03" width="6.80" height="9.5" fill="#f8b98e"/>
<text x="184.00" y="282.28" font-size="3.6" fill="#2c2c2c" text-anchor="middle">10</text>
<line x1="129.3" y1="294.94" x2="216" y2="294.94" stroke="#3a3a3a" stroke-width="1.4"/>
<rect x="146.4" y="290.19" width="3.00" height="9.5" fill="#fcc80c"/>
<text x="147.90" y="296.44" font-size="4.2" fill="#2c2c2c" text-anchor="middle">2</text>
<rect x="149.4" y="290.19" width="4.00" height="9.5" fill="#0a8584"/>
<text x="151.40" y="296.44" font-size="4.2" fill="#2c2c2c" text-anchor="middle">4</text>
<rect x="153.4" y="290.19" width="5.00" height="9.5" fill="#6cb43c"/>
<text x="155.90" y="296.44" font-size="4.2" fill="#2c2c2c" text-anchor="middle">1</text>
<rect x="158.4" y="290.19" width="4.60" height="9.5" fill="#ef5d8c"/>
<text x="160.70" y="296.44" font-size="4.2" fill="#2c2c2c" text-anchor="middle">3</text>
<rect x="164" y="290.19" width="2.40" height="9.5" fill="#a8d787"/>
<text x="165.20" y="296.44" font-size="4.2" fill="#2c2c2c" text-anchor="middle">7</text>
<rect x="166.4" y="290.19" width="8.00" height="9.5" fill="#e8132e"/>
<text x="170.40" y="296.44" font-size="4.2" fill="#2c2c2c" text-anchor="middle">5</text>
<line x1="129.3" y1="309.10" x2="198.4" y2="309.10" stroke="#3a3a3a" stroke-width="1.4"/>
<rect x="134" y="304.35" width="3.00" height="9.5" fill="#fcc80c"/>
<text x="135.50" y="310.60" font-size="4.2" fill="#2c2c2c" text-anchor="middle">2</text>
<rect x="137" y="304.35" width="4.00" height="9.5" fill="#0a8584"/>
<text x="139.00" y="310.60" font-size="4.2" fill="#2c2c2c" text-anchor="middle">4</text>
<rect x="141" y="304.35" width="5.00" height="9.5" fill="#6cb43c"/>
<text x="143.50" y="310.60" font-size="4.2" fill="#2c2c2c" text-anchor="middle">1</text>
<rect x="146" y="304.35" width="4.40" height="9.5" fill="#ef5d8c"/>
<text x="148.20" y="310.60" font-size="4.2" fill="#2c2c2c" text-anchor="middle">3</text>
<rect x="152.4" y="304.35" width="3.00" height="9.5" fill="#a8d787"/>
<text x="153.90" y="310.60" font-size="4.2" fill="#2c2c2c" text-anchor="middle">7</text>
<rect x="155.4" y="304.35" width="7.60" height="9.5" fill="#e8132e"/>
<text x="159.20" y="310.60" font-size="4.2" fill="#2c2c2c" text-anchor="middle">5</text>
<line x1="129.3" y1="323.26" x2="211" y2="323.26" stroke="#3a3a3a" stroke-width="1.4"/>
<rect x="133" y="318.51" width="3.40" height="9.5" fill="#fcc80c"/>
<text x="134.70" y="324.76" font-size="4.2" fill="#2c2c2c" text-anchor="middle">2</text>
<rect x="136.4" y="318.51" width="4.20" height="9.5" fill="#0a8584"/>
<text x="138.50" y="324.76" font-size="4.2" fill="#2c2c2c" text-anchor="middle">4</text>
<rect x="140.6" y="318.51" width="4.80" height="9.5" fill="#6cb43c"/>
<text x="143.00" y="324.76" font-size="4.2" fill="#2c2c2c" text-anchor="middle">1</text>
<rect x="145.4" y="318.51" width="4.20" height="9.5" fill="#ef5d8c"/>
<text x="147.50" y="324.76" font-size="4.2" fill="#2c2c2c" text-anchor="middle">3</text>
<rect x="150.6" y="318.51" width="2.40" height="9.5" fill="#a8d787"/>
<text x="151.80" y="324.76" font-size="4.2" fill="#2c2c2c" text-anchor="middle">7</text>
<rect x="153" y="318.51" width="8.00" height="9.5" fill="#e8132e"/>
<text x="157.00" y="324.76" font-size="4.2" fill="#2c2c2c" text-anchor="middle">5</text>
<rect x="200" y="318.51" width="7.00" height="9.5" fill="#fd9e18"/>
<text x="203.50" y="324.76" font-size="4.2" fill="#2c2c2c" text-anchor="middle">8</text>
<line x1="129.3" y1="337.42" x2="196.4" y2="337.42" stroke="#3a3a3a" stroke-width="1.4"/>
<rect x="132" y="332.67" width="3.40" height="9.5" fill="#fcc80c"/>
<text x="133.70" y="338.92" font-size="4.2" fill="#2c2c2c" text-anchor="middle">2</text>
<rect x="135.4" y="332.67" width="4.00" height="9.5" fill="#0a8584"/>
<text x="137.40" y="338.92" font-size="4.2" fill="#2c2c2c" text-anchor="middle">4</text>
<rect x="139.4" y="332.67" width="5.00" height="9.5" fill="#6cb43c"/>
<text x="141.90" y="338.92" font-size="4.2" fill="#2c2c2c" text-anchor="middle">1</text>
<rect x="144.4" y="332.67" width="4.20" height="9.5" fill="#ef5d8c"/>
<text x="146.50" y="338.92" font-size="4.2" fill="#2c2c2c" text-anchor="middle">3</text>
<rect x="150" y="332.67" width="3.00" height="9.5" fill="#a8d787"/>
<text x="151.50" y="338.92" font-size="4.2" fill="#2c2c2c" text-anchor="middle">7</text>
<rect x="153" y="332.67" width="8.00" height="9.5" fill="#e8132e"/>
<text x="157.00" y="338.92" font-size="4.2" fill="#2c2c2c" text-anchor="middle">5</text>
<rect x="184" y="332.67" width="7.40" height="9.5" fill="#fd9e18"/>
<text x="187.70" y="338.92" font-size="4.2" fill="#2c2c2c" text-anchor="middle">8</text>
<line x1="129.3" y1="351.58" x2="196.4" y2="351.58" stroke="#3a3a3a" stroke-width="1.4"/>
<rect x="132" y="346.83" width="3.40" height="9.5" fill="#fcc80c"/>
<text x="133.70" y="353.08" font-size="4.2" fill="#2c2c2c" text-anchor="middle">2</text>
<rect x="135.4" y="346.83" width="4.00" height="9.5" fill="#0a8584"/>
<text x="137.40" y="353.08" font-size="4.2" fill="#2c2c2c" text-anchor="middle">4</text>
<rect x="139.4" y="346.83" width="5.00" height="9.5" fill="#6cb43c"/>
<text x="141.90" y="353.08" font-size="4.2" fill="#2c2c2c" text-anchor="middle">1</text>
<rect x="144.4" y="346.83" width="4.20" height="9.5" fill="#ef5d8c"/>
<text x="146.50" y="353.08" font-size="4.2" fill="#2c2c2c" text-anchor="middle">3</text>
<rect x="150" y="346.83" width="3.00" height="9.5" fill="#a8d787"/>
<text x="151.50" y="353.08" font-size="4.2" fill="#2c2c2c" text-anchor="middle">7</text>
<rect x="153" y="346.83" width="8.00" height="9.5" fill="#e8132e"/>
<text x="157.00" y="353.08" font-size="4.2" fill="#2c2c2c" text-anchor="middle">5</text>
<rect x="184" y="346.83" width="7.40" height="9.5" fill="#fd9e18"/>
<text x="187.70" y="353.08" font-size="4.2" fill="#2c2c2c" text-anchor="middle">8</text>
<rect x="248.5" y="21.70" width="43.90" height="9" fill="#bebebe"/>
<rect x="249.8" y="21.70" width="14.60" height="9" fill="#1fb4c7"/>
<rect x="248.5" y="35.86" width="92.50" height="9" fill="#bebebe"/>
<rect x="249.8" y="35.86" width="14.60" height="9" fill="#1fb4c7"/>
<rect x="248.5" y="50.02" width="21.60" height="9" fill="#bebebe"/>
<rect x="252.4" y="50.02" width="9.90" height="9" fill="#1fb4c7"/>
<rect x="248.5" y="64.18" width="33.40" height="9" fill="#bebebe"/>
<rect x="252" y="64.18" width="16.40" height="9" fill="#1fb4c7"/>
<rect x="248.5" y="78.34" width="48.20" height="9" fill="#bebebe"/>
<rect x="252.7" y="78.34" width="14.60" height="9" fill="#1fb4c7"/>
<rect x="248.5" y="92.50" width="59.50" height="9" fill="#bebebe"/>
<rect x="252.7" y="92.50" width="15.00" height="9" fill="#1fb4c7"/>
<rect x="248.5" y="106.66" width="44.50" height="9" fill="#bebebe"/>
<rect x="252.7" y="106.66" width="15.00" height="9" fill="#1fb4c7"/>
<rect x="248.5" y="120.82" width="62.40" height="9" fill="#bebebe"/>
<rect x="252.2" y="120.82" width="15.10" height="9" fill="#1fb4c7"/>
<rect x="248.5" y="134.98" width="61.30" height="9" fill="#bebebe"/>
<rect x="252.2" y="134.98" width="15.10" height="9" fill="#1fb4c7"/>
<rect x="248.5" y="149.14" width="57.40" height="9" fill="#bebebe"/>
<rect x="249.8" y="149.14" width="14.60" height="9" fill="#1fb4c7"/>
<rect x="248.5" y="163.30" width="81.00" height="9" fill="#bebebe"/>
<rect x="249.8" y="163.30" width="14.60" height="9" fill="#1fb4c7"/>
<rect x="248.5" y="177.46" width="84.70" height="9" fill="#bebebe"/>
<rect x="253.5" y="177.46" width="14.90" height="9" fill="#1fb4c7"/>
<rect x="248.5" y="191.62" width="27.50" height="9" fill="#bebebe"/>
<rect x="253.1" y="191.62" width="9.80" height="9" fill="#1fb4c7"/>
<rect x="248.5" y="205.78" width="66.80" height="9" fill="#bebebe"/>
<rect x="261.2" y="205.78" width="14.80" height="9" fill="#1fb4c7"/>
<rect x="248.5" y="219.94" width="59.50" height="9" fill="#bebebe"/>
<rect x="255.7" y="219.94" width="14.80" height="9" fill="#1fb4c7"/>
<rect x="248.5" y="234.10" width="60.20" height="9" fill="#bebebe"/>
<rect x="255.7" y="234.10" width="14.80" height="9" fill="#1fb4c7"/>
<rect x="248.5" y="248.26" width="71.80" height="9" fill="#bebebe"/>
<rect x="266.6" y="248.26" width="14.90" height="9" fill="#1fb4c7"/>
<rect x="248.5" y="262.42" width="58.00" height="9" fill="#bebebe"/>
<rect x="260" y="262.42" width="15.00" height="9" fill="#1fb4c7"/>
<rect x="248.5" y="276.58" width="62.80" height="9" fill="#bebebe"/>
<rect x="259" y="276.58" width="14.80" height="9" fill="#1fb4c7"/>
<rect x="248.5" y="290.74" width="85.30" height="9" fill="#bebebe"/>
<rect x="265" y="290.74" width="15.00" height="9" fill="#1fb4c7"/>
<rect x="248.5" y="304.90" width="67.90" height="9" fill="#bebebe"/>
<rect x="252.4" y="304.90" width="15.30" height="9" fill="#1fb4c7"/>
<rect x="248.5" y="319.06" width="80.50" height="9" fill="#bebebe"/>
<rect x="252" y="319.06" width="14.80" height="9" fill="#1fb4c7"/>
<rect x="248.5" y="333.22" width="65.70" height="9" fill="#bebebe"/>
<rect x="250.9" y="333.22" width="14.60" height="9" fill="#1fb4c7"/>
<rect x="248.5" y="347.38" width="65.70" height="9" fill="#bebebe"/>
<rect x="250.9" y="347.38" width="15.10" height="9" fill="#1fb4c7"/>
<line x1="364" y1="25.90" x2="399.5" y2="25.90" stroke="#3a3a3a" stroke-width="1.4"/>
<rect x="364" y="21.15" width="4.60" height="9.5" fill="#6db33f"/>
<rect x="368.6" y="21.15" width="2.20" height="9.5" fill="#fdc80c"/>
<rect x="392.3" y="21.15" width="5.40" height="9.5" fill="#fdc80c"/>
<rect x="397.7" y="21.15" width="1.80" height="9.5" fill="#6db33f"/>
<line x1="364" y1="40.06" x2="455.5" y2="40.06" stroke="#3a3a3a" stroke-width="1.4"/>
<rect x="364" y="35.31" width="1.50" height="9.5" fill="#fdc80c"/>
<rect x="377.2" y="35.31" width="5.40" height="9.5" fill="#fdc80c"/>
<rect x="390.8" y="35.31" width="1.20" height="9.5" fill="#fdc80c"/>
<rect x="393" y="35.31" width="1.30" height="9.5" fill="#fdc80c"/>
<rect x="418.3" y="35.31" width="0.80" height="9.5" fill="#fdc80c"/>
<rect x="422" y="35.31" width="1.00" height="9.5" fill="#fdc80c"/>
<rect x="423.4" y="35.31" width="1.10" height="9.5" fill="#fdc80c"/>
<rect x="427.7" y="35.31" width="2.80" height="9.5" fill="#fdc80c"/>
<rect x="454" y="35.31" width="1.50" height="9.5" fill="#fdc80c"/>
<line x1="364" y1="54.22" x2="374.7" y2="54.22" stroke="#3a3a3a" stroke-width="1.4"/>
<rect x="364" y="49.47" width="1.70" height="9.5" fill="#fdc80c"/>
<rect x="373.1" y="49.47" width="1.60" height="9.5" fill="#fdc80c"/>
<line x1="364.1" y1="68.38" x2="389.3" y2="68.38" stroke="#3a3a3a" stroke-width="1.4"/>
<rect x="364.1" y="63.63" width="1.90" height="9.5" fill="#6db33f"/>
<rect x="366" y="63.63" width="2.00" height="9.5" fill="#fdc80c"/>
<rect x="386.2" y="63.63" width="3.10" height="9.5" fill="#fdc80c"/>
<line x1="364.1" y1="82.54" x2="387.6" y2="82.54" stroke="#3a3a3a" stroke-width="1.4"/>
<rect x="364.1" y="77.79" width="8.20" height="9.5" fill="#6db33f"/>
<rect x="375" y="77.79" width="1.70" height="9.5" fill="#fdc80c"/>
<rect x="378.1" y="77.79" width="5.60" height="9.5" fill="#fdc80c"/>
<rect x="383.7" y="77.79" width="3.90" height="9.5" fill="#6db33f"/>
<line x1="364.1" y1="96.70" x2="384.1" y2="96.70" stroke="#3a3a3a" stroke-width="1.4"/>
<rect x="364.1" y="91.95" width="6.20" height="9.5" fill="#6db33f"/>
<rect x="370.3" y="91.95" width="1.70" height="9.5" fill="#fdc80c"/>
<rect x="373.1" y="91.95" width="7.10" height="9.5" fill="#fdc80c"/>
<rect x="380.2" y="91.95" width="3.90" height="9.5" fill="#6db33f"/>
<line x1="364.1" y1="110.86" x2="377.4" y2="110.86" stroke="#3a3a3a" stroke-width="1.4"/>
<rect x="364.1" y="106.11" width="2.20" height="9.5" fill="#6db33f"/>
<rect x="366.3" y="106.11" width="2.10" height="9.5" fill="#fdc80c"/>
<rect x="372.6" y="106.11" width="4.10" height="9.5" fill="#fdc80c"/>
<rect x="376.7" y="106.11" width="0.80" height="9.5" fill="#6db33f"/>
<line x1="364.1" y1="125.02" x2="377.8" y2="125.02" stroke="#3a3a3a" stroke-width="1.4"/>
<rect x="364.1" y="120.27" width="1.10" height="9.5" fill="#6db33f"/>
<rect x="365.2" y="120.27" width="2.10" height="9.5" fill="#fdc80c"/>
<rect x="370.7" y="120.27" width="7.10" height="9.5" fill="#fdc80c"/>
<line x1="364.1" y1="139.18" x2="379.4" y2="139.18" stroke="#3a3a3a" stroke-width="1.4"/>
<rect x="364.1" y="134.43" width="1.90" height="9.5" fill="#6db33f"/>
<rect x="366" y="134.43" width="2.00" height="9.5" fill="#fdc80c"/>
<rect x="369.6" y="134.43" width="7.40" height="9.5" fill="#fdc80c"/>
<rect x="377" y="134.43" width="2.40" height="9.5" fill="#6db33f"/>
<line x1="364.1" y1="153.34" x2="378.6" y2="153.34" stroke="#3a3a3a" stroke-width="1.4"/>
<rect x="364.1" y="148.59" width="3.50" height="9.5" fill="#6db33f"/>
<rect x="367.6" y="148.59" width="1.90" height="9.5" fill="#fdc80c"/>
<rect x="372" y="148.59" width="6.60" height="9.5" fill="#fdc80c"/>
<line x1="364.1" y1="167.50" x2="404.3" y2="167.50" stroke="#3a3a3a" stroke-width="1.4"/>
<rect x="364.1" y="162.75" width="1.60" height="9.5" fill="#6db33f"/>
<rect x="365.7" y="162.75" width="1.60" height="9.5" fill="#fdc80c"/>
<rect x="379.4" y="162.75" width="10.60" height="9.5" fill="#fdc80c"/>
<rect x="394.4" y="162.75" width="1.60" height="9.5" fill="#6db33f"/>
<rect x="400.2" y="162.75" width="0.90" height="9.5" fill="#6db33f"/>
<rect x="401.1" y="162.75" width="0.90" height="9.5" fill="#fdc80c"/>
<rect x="403" y="162.75" width="1.30" height="9.5" fill="#6db33f"/>
<line x1="364.1" y1="181.66" x2="500" y2="181.66" stroke="#3a3a3a" stroke-width="1.4"/>
<rect x="364.1" y="176.91" width="1.60" height="9.5" fill="#6db33f"/>
<rect x="365.7" y="176.91" width="2.20" height="9.5" fill="#fdc80c"/>
<rect x="487.3" y="176.91" width="10.90" height="9.5" fill="#fdc80c"/>
<rect x="498.2" y="176.91" width="1.80" height="9.5" fill="#6db33f"/>
<line x1="364.1" y1="195.82" x2="396.7" y2="195.82" stroke="#3a3a3a" stroke-width="1.4"/>
<rect x="364.1" y="191.07" width="1.90" height="9.5" fill="#fdc80c"/>
<rect x="395.2" y="191.07" width="1.50" height="9.5" fill="#fdc80c"/>
<line x1="364.1" y1="209.98" x2="381.5" y2="209.98" stroke="#3a3a3a" stroke-width="1.4"/>
<rect x="364.1" y="205.23" width="1.10" height="9.5" fill="#6db33f"/>
<rect x="365.2" y="205.23" width="2.40" height="9.5" fill="#fdc80c"/>
<rect x="372" y="205.23" width="6.30" height="9.5" fill="#fdc80c"/>
<rect x="378.3" y="205.23" width="1.90" height="9.5" fill="#6db33f"/>
<rect x="380.5" y="205.23" width="1.00" height="9.5" fill="#6db33f"/>
<line x1="364.1" y1="224.14" x2="383" y2="224.14" stroke="#3a3a3a" stroke-width="1.4"/>
<rect x="364.1" y="219.39" width="5.10" height="9.5" fill="#6db33f"/>
<rect x="369.2" y="219.39" width="2.30" height="9.5" fill="#fdc80c"/>
<rect x="377" y="219.39" width="6.00" height="9.5" fill="#fdc80c"/>
<line x1="364.1" y1="238.30" x2="378.3" y2="238.30" stroke="#3a3a3a" stroke-width="1.4"/>
<rect x="364.1" y="233.55" width="2.20" height="9.5" fill="#fdc80c"/>
<rect x="372" y="233.55" width="6.30" height="9.5" fill="#fdc80c"/>
<line x1="364.1" y1="252.46" x2="380.2" y2="252.46" stroke="#3a3a3a" stroke-width="1.4"/>
<rect x="364.1" y="247.71" width="1.10" height="9.5" fill="#6db33f"/>
<rect x="365.2" y="247.71" width="4.80" height="9.5" fill="#fdc80c"/>
<rect x="373.9" y="247.71" width="6.30" height="9.5" fill="#fdc80c"/>
<line x1="364.1" y1="266.62" x2="387.3" y2="266.62" stroke="#3a3a3a" stroke-width="1.4"/>
<rect x="364.1" y="261.87" width="2.70" height="9.5" fill="#fdc80c"/>
<rect x="381.8" y="261.87" width="5.50" height="9.5" fill="#fdc80c"/>
<line x1="364.1" y1="280.78" x2="392" y2="280.78" stroke="#3a3a3a" stroke-width="1.4"/>
<rect x="364.1" y="276.03" width="0.80" height="9.5" fill="#6db33f"/>
<rect x="364.8" y="276.03" width="3.10" height="9.5" fill="#fdc80c"/>
<rect x="383" y="276.03" width="6.60" height="9.5" fill="#fdc80c"/>
<rect x="389.6" y="276.03" width="2.40" height="9.5" fill="#6db33f"/>
<line x1="364.1" y1="294.94" x2="391.2" y2="294.94" stroke="#3a3a3a" stroke-width="1.4"/>
<rect x="364.1" y="290.19" width="4.30" height="9.5" fill="#6db33f"/>
<rect x="368.4" y="290.19" width="3.60" height="9.5" fill="#fdc80c"/>
<rect x="380.2" y="290.19" width="9.40" height="9.5" fill="#fdc80c"/>
<rect x="389.6" y="290.19" width="1.60" height="9.5" fill="#6db33f"/>
<line x1="364.1" y1="309.10" x2="394.4" y2="309.10" stroke="#3a3a3a" stroke-width="1.4"/>
<rect x="364.1" y="304.35" width="1.10" height="9.5" fill="#6db33f"/>
<rect x="365.2" y="304.35" width="2.40" height="9.5" fill="#fdc80c"/>
<rect x="379.4" y="304.35" width="7.90" height="9.5" fill="#fdc80c"/>
<rect x="387.3" y="304.35" width="1.60" height="9.5" fill="#6db33f"/>
<rect x="390" y="304.35" width="4.40" height="9.5" fill="#6db33f"/>
<line x1="364.1" y1="323.26" x2="477.3" y2="323.26" stroke="#3a3a3a" stroke-width="1.4"/>
<rect x="364.1" y="318.51" width="2.70" height="9.5" fill="#6db33f"/>
<rect x="366.8" y="318.51" width="2.70" height="9.5" fill="#fdc80c"/>
<rect x="464.9" y="318.51" width="10.90" height="9.5" fill="#fdc80c"/>
<rect x="475.8" y="318.51" width="1.50" height="9.5" fill="#6db33f"/>
<line x1="364.1" y1="337.42" x2="404.6" y2="337.42" stroke="#3a3a3a" stroke-width="1.4"/>
<rect x="364.1" y="332.67" width="6.30" height="9.5" fill="#6db33f"/>
<rect x="370.4" y="332.67" width="1.60" height="9.5" fill="#fdc80c"/>
<rect x="373.1" y="332.67" width="8.70" height="9.5" fill="#fdc80c"/>
<rect x="384.4" y="332.67" width="10.00" height="9.5" fill="#6db33f"/>
<rect x="402" y="332.67" width="2.60" height="9.5" fill="#6db33f"/>
<line x1="364.1" y1="351.58" x2="410.1" y2="351.58" stroke="#3a3a3a" stroke-width="1.4"/>
<rect x="364.1" y="346.83" width="0.80" height="9.5" fill="#6db33f"/>
<rect x="367.3" y="346.83" width="1.90" height="9.5" fill="#6db33f"/>
<rect x="369.2" y="346.83" width="1.50" height="9.5" fill="#fdc80c"/>
<rect x="372.3" y="346.83" width="7.90" height="9.5" fill="#fdc80c"/>
<rect x="382.6" y="346.83" width="0.80" height="9.5" fill="#fdc80c"/>
<rect x="398.8" y="346.83" width="1.90" height="9.5" fill="#a8d787"/>
<rect x="408.2" y="346.83" width="1.90" height="9.5" fill="#6db33f"/>
<line x1="129.8" y1="366.0" x2="229.3" y2="366.0" stroke="#bdbdbd" stroke-width="1"/>
<line x1="129.80" y1="366.0" x2="129.80" y2="369.5" stroke="#bdbdbd" stroke-width="1"/>
<line x1="146.38" y1="366.0" x2="146.38" y2="369.5" stroke="#bdbdbd" stroke-width="1"/>
<line x1="162.97" y1="366.0" x2="162.97" y2="369.5" stroke="#bdbdbd" stroke-width="1"/>
<line x1="179.55" y1="366.0" x2="179.55" y2="369.5" stroke="#bdbdbd" stroke-width="1"/>
<line x1="196.13" y1="366.0" x2="196.13" y2="369.5" stroke="#bdbdbd" stroke-width="1"/>
<line x1="212.72" y1="366.0" x2="212.72" y2="369.5" stroke="#bdbdbd" stroke-width="1"/>
<line x1="229.30" y1="366.0" x2="229.30" y2="369.5" stroke="#bdbdbd" stroke-width="1"/>
<text x="129.80" y="375.8" font-size="5.5" fill="#333" text-anchor="middle">0</text>
<text x="146.38" y="375.8" font-size="5.5" fill="#333" text-anchor="middle">100</text>
<text x="162.97" y="375.8" font-size="5.5" fill="#333" text-anchor="middle">200</text>
<text x="179.55" y="375.8" font-size="5.5" fill="#333" text-anchor="middle">300</text>
<text x="196.13" y="375.8" font-size="5.5" fill="#333" text-anchor="middle">400</text>
<text x="212.72" y="375.8" font-size="5.5" fill="#333" text-anchor="middle">500</text>
<text x="229.30" y="375.8" font-size="5.5" fill="#333" text-anchor="middle">600</text>
<text x="129.30" y="367.6" font-size="6.3" fill="#333" text-anchor="end">5'</text>
<text x="229.90" y="367.6" font-size="6.3" fill="#333">3'</text>
<line x1="248.5" y1="366.0" x2="347.7" y2="366.0" stroke="#bdbdbd" stroke-width="1"/>
<line x1="248.50" y1="366.0" x2="248.50" y2="369.5" stroke="#bdbdbd" stroke-width="1"/>
<line x1="265.03" y1="366.0" x2="265.03" y2="369.5" stroke="#bdbdbd" stroke-width="1"/>
<line x1="281.57" y1="366.0" x2="281.57" y2="369.5" stroke="#bdbdbd" stroke-width="1"/>
<line x1="298.10" y1="366.0" x2="298.10" y2="369.5" stroke="#bdbdbd" stroke-width="1"/>
<line x1="314.63" y1="366.0" x2="314.63" y2="369.5" stroke="#bdbdbd" stroke-width="1"/>
<line x1="331.17" y1="366.0" x2="331.17" y2="369.5" stroke="#bdbdbd" stroke-width="1"/>
<line x1="347.70" y1="366.0" x2="347.70" y2="369.5" stroke="#bdbdbd" stroke-width="1"/>
<text x="248.50" y="375.8" font-size="5.5" fill="#333" text-anchor="middle">0</text>
<text x="265.03" y="375.8" font-size="5.5" fill="#333" text-anchor="middle">100</text>
<text x="281.57" y="375.8" font-size="5.5" fill="#333" text-anchor="middle">200</text>
<text x="298.10" y="375.8" font-size="5.5" fill="#333" text-anchor="middle">300</text>
<text x="314.63" y="375.8" font-size="5.5" fill="#333" text-anchor="middle">400</text>
<text x="331.17" y="375.8" font-size="5.5" fill="#333" text-anchor="middle">500</text>
<text x="347.70" y="375.8" font-size="5.5" fill="#333" text-anchor="middle">600</text>
<text x="248.00" y="367.6" font-size="6.3" fill="#333" text-anchor="end">5'</text>
<text x="348.30" y="367.6" font-size="6.3" fill="#333">3'</text>
<line x1="364.3" y1="366.0" x2="513.7" y2="366.0" stroke="#bdbdbd" stroke-width="1"/>
<line x1="364.30" y1="366.0" x2="364.30" y2="369.5" stroke="#bdbdbd" stroke-width="1"/>
<line x1="389.20" y1="366.0" x2="389.20" y2="369.5" stroke="#bdbdbd" stroke-width="1"/>
<line x1="414.10" y1="366.0" x2="414.10" y2="369.5" stroke="#bdbdbd" stroke-width="1"/>
<line x1="439.00" y1="366.0" x2="439.00" y2="369.5" stroke="#bdbdbd" stroke-width="1"/>
<line x1="463.90" y1="366.0" x2="463.90" y2="369.5" stroke="#bdbdbd" stroke-width="1"/>
<line x1="488.80" y1="366.0" x2="488.80" y2="369.5" stroke="#bdbdbd" stroke-width="1"/>
<line x1="513.70" y1="366.0" x2="513.70" y2="369.5" stroke="#bdbdbd" stroke-width="1"/>
<text x="364.30" y="375.8" font-size="5.5" fill="#333" text-anchor="middle">0</text>
<text x="389.20" y="375.8" font-size="5.5" fill="#333" text-anchor="middle">3000</text>
<text x="414.10" y="375.8" font-size="5.5" fill="#333" text-anchor="middle">6000</text>
<text x="439.00" y="375.8" font-size="5.5" fill="#333" text-anchor="middle">9000</text>
<text x="463.90" y="375.8" font-size="5.5" fill="#333" text-anchor="middle">12,000</text>
<text x="488.80" y="375.8" font-size="5.5" fill="#333" text-anchor="middle">15,000</text>
<text x="513.70" y="375.8" font-size="5.5" fill="#333" text-anchor="middle">18,000</text>
<text x="363.80" y="367.6" font-size="6.3" fill="#333" text-anchor="end">5'</text>
<text x="514.30" y="367.6" font-size="6.3" fill="#333">3'</text>
<rect x="485.2" y="18.60" width="15.7" height="6.7" fill="#fcc80c"/>
<text x="502.8" y="24.20" font-size="6.4" fill="#333">Motif 2</text>
<rect x="485.2" y="26.72" width="15.7" height="6.7" fill="#0a8584"/>
<text x="502.8" y="32.32" font-size="6.4" fill="#333">Motif 4</text>
<rect x="485.2" y="34.84" width="15.7" height="6.7" fill="#6cb43c"/>
<text x="502.8" y="40.44" font-size="6.4" fill="#333">Motif 1</text>
<rect x="485.2" y="42.96" width="15.7" height="6.7" fill="#ef5d8c"/>
<text x="502.8" y="48.56" font-size="6.4" fill="#333">Motif 3</text>
<rect x="485.2" y="51.08" width="15.7" height="6.7" fill="#9b97bd"/>
<text x="502.8" y="56.68" font-size="6.4" fill="#333">Motif 6</text>
<rect x="485.2" y="59.20" width="15.7" height="6.7" fill="#a8d787"/>
<text x="502.8" y="64.80" font-size="6.4" fill="#333">Motif 7</text>
<rect x="485.2" y="67.32" width="15.7" height="6.7" fill="#e8132e"/>
<text x="502.8" y="72.92" font-size="6.4" fill="#333">Motif 5</text>
<rect x="485.2" y="75.44" width="15.7" height="6.7" fill="#fd9e18"/>
<text x="502.8" y="81.04" font-size="6.4" fill="#333">Motif 8</text>
<rect x="485.2" y="83.56" width="15.7" height="6.7" fill="#5d4392"/>
<text x="502.8" y="89.16" font-size="6.4" fill="#333">Motif 9</text>
<rect x="485.2" y="91.68" width="15.7" height="6.7" fill="#f8b98e"/>
<text x="502.8" y="97.28" font-size="6.4" fill="#333">Motif 10</text>
<rect x="485.2" y="113.0" width="15.7" height="6.8" fill="#1fb4c7"/>
<text x="502.8" y="118.7" font-size="6.3" fill="#333">HSF_DNA-bind</text>
<rect x="485.2" y="135.0" width="15.7" height="6.6" fill="#6db33f"/>
<text x="502.8" y="140.6" font-size="6.4" fill="#333">UTR</text>
<rect x="485.2" y="142.9" width="15.7" height="6.6" fill="#fdc80c"/>
<text x="502.8" y="148.5" font-size="6.4" fill="#333">CDS</text>
</svg>
</body></html>
